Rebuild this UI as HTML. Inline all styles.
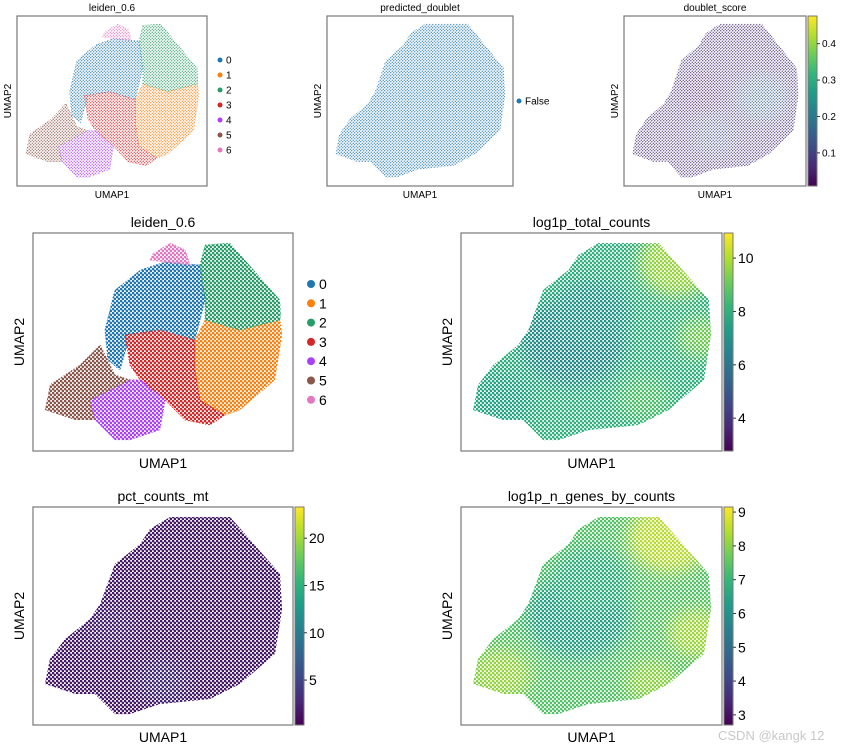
<!DOCTYPE html>
<html><head><meta charset="utf-8">
<style>
html,body{margin:0;padding:0;background:#fff;}
svg{display:block;font-family:"Liberation Sans",Arial,sans-serif;}
</style></head>
<body>
<svg id="fig" width="847" height="749" viewBox="0 0 847 749" xmlns="http://www.w3.org/2000/svg">
<defs id="defs"></defs>
<text x="718" y="740" font-size="13" fill="#c8c8c8">CSDN @kangk 12</text>
</svg>
<script>
// ---- data (UMAP coordinates) ----
const outlineU = [5.27,7.58,9.5,9.58,9.31,7.96,6.81,4.88,3.73,3.15,2.38,1.62,0.46,0.65,1.23,2.19,2.58,3.15,4.12,4.5];
const outlineV = [9.54,9.54,6.93,5.32,3.26,1.88,1.19,0.96,0.5,0.5,1.42,1.42,1.88,3.03,3.94,4.86,5.55,7.39,8.3,8.99];
const clusterNames = ['0','1','2','3','4','5','6'];
const clusterColors = ['#1f77b4','#ff7f0e','#279e68','#d62728','#aa40fc','#8c564b','#e377c2'];
const clusterU = [
 [2.77,3.15,4.12,5.08,6.42,6.62,6.23,4.88,3.73,3.35,2.88],
 [6.23,6.62,7.96,9.5,9.58,9.31,7.96,7.38,6.42,6.23],
 [6.42,6.62,7.58,8.73,9.58,9.5,7.96,6.62,6.62],
 [3.54,4.88,6.23,6.23,6.42,7.38,6.81,5.85,5.08,4.12,3.73],
 [2.19,3.73,4.12,5.08,4.88,3.73,3.15,2.38],
 [0.46,0.65,1.81,2.58,3.15,3.73,2.19,2.38,1.62],
 [4.5,4.69,5.27,5.85,6.04,5.08]
];
const clusterV = [
 [5.55,7.39,8.3,8.67,8.53,6.93,5.09,5.55,5.32,3.72,4.17],
 [5.09,6.01,5.55,6.01,5.32,3.26,1.88,1.65,2.34,3.72],
 [8.53,9.45,9.54,8.76,7.16,6.01,5.55,6.01,6.93],
 [5.32,5.55,5.09,3.72,2.34,1.65,1.19,1.42,2.34,3.26,3.94],
 [2.34,3.26,3.26,2.34,0.96,0.5,0.5,1.42],
 [1.88,3.03,3.94,4.86,3.49,3.26,2.34,1.42,1.42],
 [8.76,9.22,9.54,9.22,8.53,8.67]
];
// continuous panels: base value + region blobs
const totalBase = 8.0;
const totalRegU = [4.3,5.0,8.3,9.2,1.6,7.0];
const totalRegV = [5.0,6.3,8.6,5.2,2.4,2.4];
const totalRegR = [2.0,1.5,1.5,0.9,1.2,1.0];
const totalRegVal = [6.6,7.0,9.8,9.3,7.5,8.7];
const genesBase = 7.4;
const genesRegU = [4.5,5.0,8.0,9.0,1.5,7.3];
const genesRegV = [5.0,6.6,8.6,4.2,2.3,2.0];
const genesRegR = [2.0,1.5,1.6,1.1,1.2,1.0];
const genesRegVal = [6.3,6.7,8.6,8.3,8.2,8.1];
const mtBase = 1.8;
const mtRegU = [5.0,3.0];
const mtRegV = [2.0,4.5];
const mtRegR = [1.0,1.0];
const mtRegVal = [3.5,2.8];
const dblBase = 0.07;
const dblRegU = [7.6,5.0,4.2];
const dblRegV = [5.2,3.0,5.5];
const dblRegR = [1.4,1.2,1.2];
const dblRegVal = [0.15,0.12,0.04];
const totalTicks = [4,6,8,10];
const genesTicks = [3,4,5,6,7,8,9];
const mtTicks = [5,10,15,20];
const dblTicks = [0.1,0.2,0.3,0.4];

const NS='http://www.w3.org/2000/svg';
const svg=document.getElementById('fig');
const defs=document.getElementById('defs');
function mk(t,a,p){const e=document.createElementNS(NS,t);for(const k in a)e.setAttribute(k,a[k]);(p||svg).appendChild(e);return e;}
const vir=[[68,1,84],[72,40,120],[62,74,137],[49,104,142],[38,130,142],[31,158,137],[53,183,121],[109,205,89],[180,222,44],[253,231,37]];
function viridis(t){t=Math.max(0,Math.min(1,t))*9;const i=Math.min(8,Math.floor(t)),f=t-i;const a=vir[i],b=vir[i+1];
 return 'rgb('+a.map((c,k)=>Math.round(c+(b[k]-c)*f)).join(',')+')';}
let pid=0;
function pattern(color,small){const id='p'+(pid++);const s=small?3:4,r=small?0.65:1.35;
 const p=mk('pattern',{id:id,width:s,height:s,patternUnits:'userSpaceOnUse'},defs);
 mk('circle',{cx:s/4,cy:s/4,r:r,fill:color},p);mk('circle',{cx:3*s/4,cy:3*s/4,r:r,fill:color},p);
 return 'url(#'+id+')';}
function panel(F,title,small,name){
 const g=mk('g',{});
 const sx=u=>F.x+u/10*F.w, sy=v=>F.y+F.h-v/10*F.h;
 const fs=small?10:14;
 const t=mk('text',{x:F.x+F.w/2,y:F.y-(small?5:6),'font-size':fs,'text-anchor':'middle',fill:'#000'},g);t.textContent=title;
 
 const xl=mk('text',{x:F.x+F.w/2,y:F.y+F.h+(small?12:17),'font-size':small?10:14,'text-anchor':'middle'},g);xl.textContent='UMAP1';
 
 const yx=F.x-(small?6:9),yy=F.y+F.h/2;
 const yl=mk('text',{x:yx,y:yy,'font-size':small?10:14,'text-anchor':'middle',transform:'rotate(-90 '+yx+' '+yy+')'},g);yl.textContent='UMAP2';
 
 const cid='c'+(pid++);const cp=mk('clipPath',{id:cid},defs);
 const pts=outlineU.map((u,i)=>sx(u)+','+sy(outlineV[i])).join(' ');
 mk('polygon',{points:pts},cp);
 const plot=mk('g',{'clip-path':'url(#'+cid+')'},g);
 mk('rect',{x:F.x,y:F.y,width:F.w,height:F.h,fill:'none',stroke:'#777','stroke-width':1.2},g);
 return {g,plot,sx,sy,pts,cid};
}
function colorbar(F,vmin,vmax,ticks,small,fmt){
 const x=F.x+F.w+2,w=9;
 const gid='g'+(pid++);const lg=mk('linearGradient',{id:gid,x1:0,y1:1,x2:0,y2:0},defs);
 for(let i=0;i<=9;i++)mk('stop',{offset:i/9,'stop-color':viridis(i/9)},lg);
 const cb=mk('g',{});
 mk('rect',{x:x,y:F.y,width:w,height:F.h,fill:'url(#'+gid+')',stroke:'#777','stroke-width':1},cb);
 const ty=v=>F.y+F.h-(v-vmin)/(vmax-vmin)*F.h;
 ticks.forEach(v=>{const y=ty(v);mk('line',{x1:x+w,x2:x+w+3,y1:y,y2:y,stroke:'#333'},cb);
  const t=mk('text',{x:x+w+5,y:y+(small?3.5:5),'font-size':small?10:14},cb);t.textContent=fmt?fmt(v):v;
  });
}
function cont(F,title,name,base,rU,rV,rR,rVal,vmin,vmax,ticks,small,fmt){
 const P=panel(F,title,small,name);const n=v=>(v-vmin)/(vmax-vmin);
 const fid='f'+(pid++);const fl=mk('filter',{id:fid,x:'-50%',y:'-50%',width:'200%',height:'200%'},defs);
 mk('feGaussianBlur',{stdDeviation:F.w*0.03},fl);
 const mid='m'+(pid++);const mask=mk('mask',{id:mid,maskUnits:'userSpaceOnUse',x:F.x,y:F.y,width:F.w,height:F.h},defs);
 mk('rect',{x:F.x,y:F.y,width:F.w,height:F.h,fill:pattern('#fff',small)},mask);
 const field=mk('g',{mask:'url(#'+mid+')'},P.plot);
 mk('rect',{x:F.x,y:F.y,width:F.w,height:F.h,fill:viridis(n(base))},field);
 const bl=mk('g',{filter:'url(#'+fid+')',opacity:0.9},field);
 rU.forEach((u,i)=>{
  const e=mk('ellipse',{cx:P.sx(u),cy:P.sy(rV[i]),rx:rR[i]/10*F.w,ry:rR[i]/10*F.h,fill:viridis(n(rVal[i]))},bl);
  });
 colorbar(F,vmin,vmax,ticks,small,fmt);
 return P;
}
function cat(F,title,name,small){
 const P=panel(F,title,small,name);
 clusterU.forEach((us,c)=>{
  const pts=us.map((u,i)=>P.sx(u)+','+P.sy(clusterV[c][i])).join(' ');
  const p=mk('polygon',{points:pts,fill:pattern(clusterColors[c],small),stroke:clusterColors[c],'stroke-width':small?0.5:1,'stroke-dasharray':'1 2'},P.plot);
  
 });
 const lx=F.x+F.w+(small?13:18),ly=F.y+(small?44:51),sp=small?15:19.3;
 clusterNames.forEach((nm,i)=>{
  const c=mk('circle',{cx:lx,cy:ly+i*sp,r:small?2.5:4,fill:clusterColors[i]});
  
  const t=mk('text',{x:lx+(small?6:8),y:ly+i*sp+(small?3.5:5),'font-size':small?10:14});t.textContent=nm;
  
 });
}
// top row
cat({x:17,y:16,w:190,h:170},'leiden_0.6','leiden-small-panel',true);
(function(){const F={x:327,y:16,w:186,h:170};const P=panel(F,'predicted_doublet',true,'doublet-panel');
 mk('rect',{x:F.x,y:F.y,width:F.w,height:F.h,fill:pattern('#1f77b4',true)},P.plot);
 const c=mk('circle',{cx:519,cy:101,r:2.5,fill:'#1f77b4'});
 const t=mk('text',{x:525,y:104.5,'font-size':10});t.textContent='False';})();
cont({x:624,y:16,w:182,h:170},'doublet_score','doublet-score-panel',dblBase,dblRegU,dblRegV,dblRegR,dblRegVal,0.009,0.476,dblTicks,true,v=>v.toFixed(1));
// middle
cat({x:33,y:233,w:260,h:218},'leiden_0.6','leiden-panel',false);
cont({x:461,y:233,w:261,h:218},'log1p_total_counts','total-counts-panel',totalBase,totalRegU,totalRegV,totalRegR,totalRegVal,2.77,10.94,totalTicks,false);
// bottom
cont({x:33,y:507,w:260,h:218},'pct_counts_mt','pct-mt-panel',mtBase,mtRegU,mtRegV,mtRegR,mtRegVal,0.25,23.3,mtTicks,false);
cont({x:461,y:507,w:261,h:218},'log1p_n_genes_by_counts','n-genes-panel',genesBase,genesRegU,genesRegV,genesRegR,genesRegVal,2.7,9.15,genesTicks,false);
</script>
</body></html>
